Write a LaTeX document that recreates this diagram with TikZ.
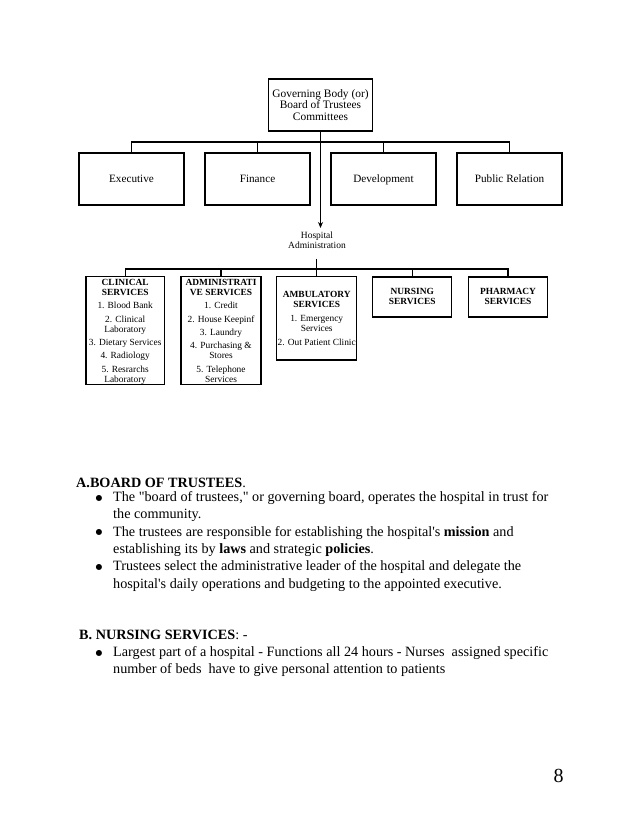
\documentclass[tikz,border=0pt]{standalone}
\usepackage{fontspec}
\setmainfont{Liberation Serif}[Ligatures=TeXOff]
\newfontfamily\symfont{DejaVu Sans}
\usetikzlibrary{arrows.meta}
\begin{document}
\begin{tikzpicture}[x=1pt,y=-1pt,
  box/.style={draw,line width=1.2pt,inner sep=0pt,rectangle},
  rbox/.style={box,minimum width=105pt,minimum height=52pt,font=\fontsize{11.2}{12}\selectfont,text height=7.6pt,text depth=0pt},
  conn/.style={line width=1.2pt},
  bt/.style={inner sep=0pt,anchor=base,font=\fontsize{9.4}{10}\selectfont},
  tl/.style={inner sep=0pt,anchor=base west,font=\fontsize{14.2}{16}\selectfont},
  bul/.style={inner sep=0pt,anchor=base,font=\symfont\fontsize{7.8}{8}\selectfont}]
\useasboundingbox (0,0) rectangle (638,826);
\fill[white] (0,0) rectangle (638,826);
% top
\node[box,minimum width=104.5pt,minimum height=52pt,align=center,font=\fontsize{11.4}{11.4}\selectfont] (gov) at (320.5,105) {Governing Body (or)\\Board of Trustees\\Committees};
\node[rbox] (exe) at (131.5,179) {Executive};
\node[rbox] (fin) at (257.5,179) {Finance};
\node[rbox] (dev) at (383.5,179) {Development};
\node[rbox] (pub) at (509.5,179) {Public Relation};
\coordinate (j1) at (320.5,142);
\draw[conn] (exe.north) |- (j1) -| (pub.north);
\draw[conn] (fin.north) -- (fin.north |- j1);
\draw[conn] (dev.north) -- (dev.north |- j1);
\node[inner sep=0pt,align=center,font=\fontsize{9.5}{9.8}\selectfont] (hosp) at (317,240.5) {Hospital\\Administration};
\coordinate (arr) at (320.5,228);
\draw[conn,-{Stealth[length=6pt,width=5pt]}] (gov.south) -- (arr);
% third row boxes
\node[box,minimum width=78.3pt,minimum height=107.6pt] (cli) at (125.2,330.5) {};
\node[box,minimum width=80pt,minimum height=108pt] (adm) at (221,330.2) {};
\node[box,minimum width=80pt,minimum height=83.3pt] (amb) at (316.7,318.3) {};
\node[box,minimum width=79pt,minimum height=40pt] (nur) at (412.2,297) {};
\node[box,minimum width=79.4pt,minimum height=40pt] (pha) at (508,297) {};
\coordinate (h1) at (316.7,258.5);
\coordinate (j2) at (316.7,269);
\draw[conn] (h1) -- (j2);
\draw[conn] (cli.north) |- (j2) -| (pha.north);
\draw[conn] (adm.north) -- (adm.north |- j2);
\draw[conn] (amb.north) -- (amb.north |- j2);
\draw[conn] (nur.north) -- (nur.north |- j2);
% clinical text
\node[bt] (c1) at (125.2,285) {\textbf{CLINICAL}};
\node[bt] (c2) at (125.2,295) {\textbf{SERVICES}};
\node[bt] (c3) at (125.2,308.3) {1. Blood Bank};
\node[bt] (c4) at (125.2,322) {2. Clinical};
\node[bt] (c5) at (125.2,332) {Laboratory};
\node[bt] (c6) at (125.2,345.3) {3. Dietary Services};
\node[bt] (c7) at (125.2,358.3) {4. Radiology};
\node[bt] (c8) at (125.2,372.3) {5. Resrarchs};
\node[bt] (c9) at (125.2,382.3) {Laboratory};
% admin text
\node[bt] (a1) at (221,285) {\textbf{ADMINISTRATI}};
\node[bt] (a2) at (221,295) {\textbf{VE SERVICES}};
\node[bt] (a3) at (221,308.3) {1. Credit};
\node[bt] (a4) at (221,322) {2. House Keepinf};
\node[bt] (a5) at (221,335.3) {3. Laundry};
\node[bt] (a6) at (221,348.3) {4. Purchasing \&};
\node[bt] (a7) at (221,358.3) {Stores};
\node[bt] (a8) at (221,372.3) {5. Telephone};
\node[bt] (a9) at (221,382.3) {Services};
% ambulatory
\node[bt] (m1) at (316.7,297.8) {\textbf{AMBULATORY}};
\node[bt] (m2) at (316.7,307.8) {\textbf{SERVICES}};
\node[bt] (m3) at (316.7,321.3) {1. Emergency};
\node[bt] (m4) at (316.7,331.3) {Services};
\node[bt] (m5) at (316.7,345) {2. Out Patient Clinic};
% nursing, pharmacy
\node[bt] (n1) at (412.2,294.3) {\textbf{NURSING}};
\node[bt] (n2) at (412.2,304.3) {\textbf{SERVICES}};
\node[bt] (p1) at (508,294.3) {\textbf{PHARMACY}};
\node[bt] (p2) at (508,304.3) {\textbf{SERVICES}};
% text section
\node[tl] (ha) at (76,487) {\textbf{A.BOARD OF TRUSTEES}.};
\node[bul] (b1) at (99,500) {●};
\node[tl] (l1) at (113,501.5) {The "board of trustees," or governing board, operates the hospital in trust for};
\node[tl] (l2) at (113,518.8) {the community.};
\node[bul] (b2) at (99,534.6) {●};
\node[tl] (l3) at (113,536.1) {The trustees are responsible for establishing the hospital's \textbf{mission} and};
\node[tl] (l4) at (113,553.4) {establishing its by \textbf{laws} and strategic \textbf{policies}.};
\node[bul] (b3) at (99,569.2) {●};
\node[tl] (l5) at (113,570.7) {Trustees select the administrative leader of the hospital and delegate the};
\node[tl] (l6) at (113,588) {hospital's daily operations and budgeting to the appointed executive.};
\node[tl] (hb) at (79,639) {\textbf{B. NURSING SERVICES}: -};
\node[bul] (b4) at (99,655) {●};
\node[tl] (l7) at (113,656.5) {Largest part of a hospital - Functions all 24 hours - Nurses\ \ assigned specific};
\node[tl] (l8) at (113,673.5) {number of beds\ \ have to give personal attention to patients};
\node[inner sep=0pt,anchor=base,font=\fontsize{20}{22}\selectfont] (pg) at (558.5,782) {8};
\end{tikzpicture}
\end{document}
